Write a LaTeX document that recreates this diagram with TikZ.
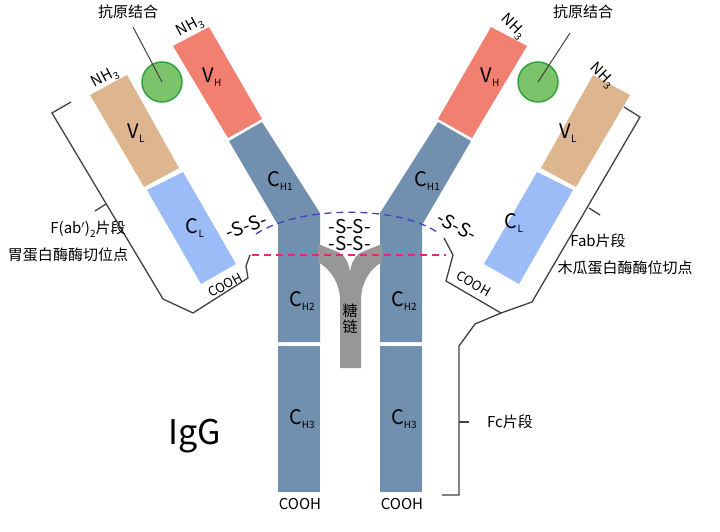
\documentclass[tikz,border=0pt]{standalone}
\usepackage{fontspec}
\setmainfont{Noto Sans CJK SC}
\newcommand{\subx}[1]{\raisebox{-3.5pt}{\fontsize{10}{10}\selectfont #1}}
\begin{document}
\begin{tikzpicture}[x=1pt,y=-1pt,
  brk/.style={draw=black!75,line width=1.3pt},
  lbl/.style={font=\fontsize{20}{20}\selectfont},
  cn/.style={font=\fontsize{15}{16}\selectfont},
  nh/.style={font=\fontsize{15}{15}\selectfont},
  ss/.style={font=\fontsize{19}{19}\selectfont,inner sep=0pt}]
\definecolor{vh}{HTML}{F28070}
\definecolor{vl}{HTML}{DDB68F}
\definecolor{cl}{HTML}{9CBCF8}
\definecolor{ch}{HTML}{7190B0}
\definecolor{gr}{HTML}{7DC36C}
\definecolor{grd}{HTML}{2FA43C}
\definecolor{sug}{HTML}{979797}
\useasboundingbox (0,0) rectangle (720,532);
% heavy chains
\fill[ch] (229,141) -- (262,122) -- (320,213) -- (320,342) -- (278,342) -- (278,225) -- cycle;
\fill[ch] (471,141) -- (438,122) -- (380,213) -- (380,342) -- (422,342) -- (422,225) -- cycle;
\fill[ch] (278,346) rectangle (320,492);
\fill[ch] (380,346) rectangle (422,492);
\fill[vh] (173,46) -- (209,27) -- (262,119) -- (228,138) -- cycle;
\fill[vh] (527,46) -- (491,27) -- (438,119) -- (472,138) -- cycle;
% light chains
\fill[vl] (90,95) -- (127,75) -- (179,168) -- (144,187) -- cycle;
\fill[vl] (630,95) -- (593,75) -- (541,168) -- (576,187) -- cycle;
\fill[cl] (147,190) -- (183,172) -- (236,264) -- (201,284) -- cycle;
\fill[cl] (573,190) -- (537,172) -- (484,264) -- (519,284) -- cycle;
% sugar
\fill[sug] (318,244) -- (338,252) .. controls (346,256) and (349,264) .. (350,272)
  .. controls (351,264) and (354,256) .. (362,252) -- (382,244) -- (382,262)
  .. controls (368,270) and (361,285) .. (361,300) -- (361,368) -- (340,368) -- (340,300)
  .. controls (340,285) and (332,270) .. (318,262) -- cycle;
\node[cn] (sug1) at (350,311) {糖};
\node[cn] (sug2) at (350,327) {链};
% antigen
\node[circle,fill=gr,draw=grd,line width=1.5pt,minimum size=40pt,inner sep=0] (agl) at (162,82) {};
\node[circle,fill=gr,draw=grd,line width=1.5pt,minimum size=40pt,inner sep=0] (agr) at (538,82) {};
\node[cn] (tl) at (128,12) {抗原结合};
\node[cn] (tr) at (583,12) {抗原结合};
\coordinate (pl) at (133,27); \coordinate (pr) at (570,33);
\draw[black!75,line width=1pt] (pl) -- (agl.center);
\draw[black!75,line width=1pt] (pr) -- (agr.center);
% dashed lines
\draw[dash pattern=on 7pt off 5pt,color={rgb,255:red,60;green,70;blue,180},line width=1.3pt]
  (256,234) .. controls (300,205) and (400,205) .. (440,234);
\draw[dash pattern=on 7pt off 5pt,color={rgb,255:red,230;green,40;blue,110},line width=1.3pt]
  (252,255) -- (446,255);
% brackets
\draw[brk] (71,102) -- (52,113) -- (163,299) -- (193,313) -- (248,278) -- (246,266) -- (250,255);
\draw[brk] (106,204) -- (95,211);
\draw[brk] (624,107) -- (640,117) -- (532,302) -- (501,313) -- (446,281) -- (453,255) -- (444,238);
\draw[brk] (589,208) -- (600,215);
\draw[brk] (501,313) -- (475,324) -- (459,346) -- (459,495) -- (442,495);
\draw[brk] (459,422) -- (469,422);
% labels on domains
\node[lbl] (lvh) at (212,77) {V\subx{H}};
\node[lbl] (rvh) at (490,77) {V\subx{H}};
\node[lbl] (lvl) at (136,133) {V\subx{L}};
\node[lbl] (rvl) at (568,133) {V\subx{L}};
\node[lbl] (lcl) at (195,228) {C\subx{L}};
\node[lbl] (rcl) at (514,223) {C\subx{L}};
\node[lbl] (lch1) at (280,181) {C\subx{H1}};
\node[lbl] (rch1) at (427,181) {C\subx{H1}};
\node[lbl] (lch2) at (302,301) {C\subx{H2}};
\node[lbl] (rch2) at (404,301) {C\subx{H2}};
\node[lbl] (lch3) at (302,419) {C\subx{H3}};
\node[lbl] (rch3) at (404,419) {C\subx{H3}};
% NH3 / COOH
\node[nh,rotate=28] (n1) at (105,78) {NH\subx{3}};
\node[nh,rotate=28] (n2) at (190,27) {NH\subx{3}};
\node[nh,rotate=-45] (n3) at (513,27) {NH\subx{3}};
\node[nh,rotate=-45] (n4) at (602,76) {NH\subx{3}};
\node[font=\fontsize{13}{13}\selectfont,rotate=28] (c1) at (225,285) {COOH};
\node[font=\fontsize{13}{13}\selectfont,rotate=-30] (c2) at (474,284) {COOH};
\node[nh] (c3) at (300,504) {COOH};
\node[nh] (c4) at (402,504) {COOH};
% S-S
\node[ss,rotate=20] (s1) at (246,226) {-S-S-};
\node[ss,rotate=-28] (s2) at (457,226) {-S-S-};
\node[ss] (s3) at (350,227) {-S-S-};
\node[ss] (s4) at (350,244) {-S-S-};
% side texts
\node[cn] (f1) at (88,229) {F(ab$'$)\subx{2}片段};
\node[cn] (f2) at (68,255) {胃蛋白酶酶切位点};
\node[cn] (f3) at (598,241) {Fab片段};
\node[cn] (f4) at (625,268) {木瓜蛋白酶酶位切点};
\node[cn] (f5) at (510,422) {Fc片段};
\node[font=\fontsize{34}{34}\selectfont] (igg) at (195,436) {IgG};
\end{tikzpicture}
\end{document}
